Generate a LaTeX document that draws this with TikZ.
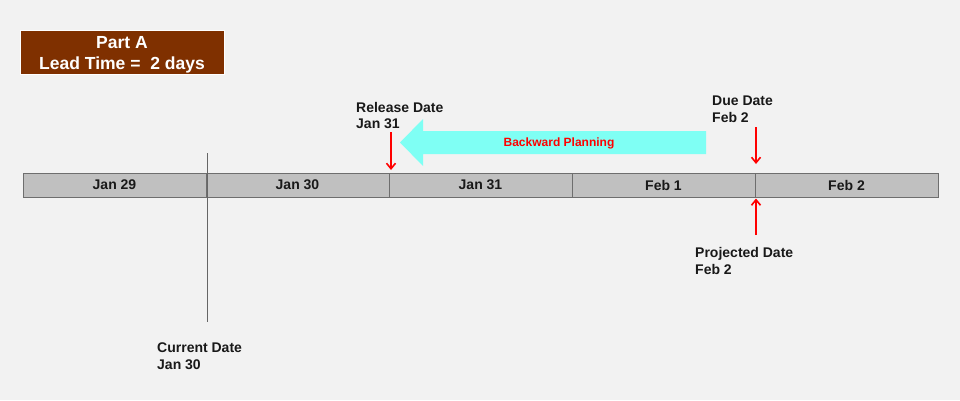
\documentclass[tikz,border=0pt]{standalone}
\usepackage{fontspec}
\setmainfont{Liberation Sans}
\usetikzlibrary{arrows.meta}
\definecolor{bg}{HTML}{F2F2F2}
\definecolor{partbrown}{HTML}{7F3000}
\definecolor{cellgray}{HTML}{C0C0C0}
\definecolor{cellline}{HTML}{6E6E6E}
\definecolor{plancyan}{HTML}{7FFFF4}
\definecolor{planred}{HTML}{FF0000}
\begin{document}
\begin{tikzpicture}[x=1pt,y=-1pt,
  cell/.style={draw=cellline, fill=cellgray, line width=0.9pt, minimum width=183pt,
    minimum height=24pt, inner sep=0pt, outer sep=0pt, anchor=west,
    font=\fontsize{14}{16}\selectfont\bfseries, text=black!90},
  lbl/.style={align=left, inner sep=0pt, anchor=north west,
    font=\fontsize{14}{16.5}\selectfont\bfseries, text=black!90},
  redarrow/.style={draw=planred, line width=1.6pt, -{Straight Barb[length=5.5pt,width=9pt]}}]
\useasboundingbox (0,0) rectangle (960,400);
\fill[bg] (0,0) rectangle (960,400);
% title box
\node[fill=partbrown, draw=white, line width=0.6pt, minimum width=204pt, minimum height=44pt,
  inner sep=0pt] (part) at (122,52) {};
\node[text=white, align=center, inner sep=0pt, font=\fontsize{17.5}{21}\selectfont\bfseries]
  (parttext) at ([yshift=-3pt]part.center) {Part A\\Lead Time = \ 2 days};
% timeline cells
\node[cell] (c1) at (23,185) {Jan 29};
\node[cell] (c2) at (c1.east) {Jan 30};
\node[cell] (c3) at (c2.east) {Jan 31};
\node[cell] (c4) at (c3.east) {Feb 1};
\node[cell] (c5) at (c4.east) {Feb 2};
% current date line
\coordinate (curtop) at (207,153);
\coordinate (curbot) at (207,322);
\draw[line width=0.7pt, draw=black!60] (curtop) -- (curbot);
% backward planning arrow
\fill[plancyan] (400,142.5) -- (423,119) -- (423,131) -- (706,131) -- (706,154)
  -- (423,154) -- (423,166) -- cycle;
\node[text=planred, font=\fontsize{12}{14}\selectfont\bfseries, inner sep=0pt] (bp) at (559,143) {Backward Planning};
% labels
\node[lbl] (rel) at (356,102) {Release Date\\Jan 31};
\node[lbl] (due) at (712,96) {Due Date\\Feb 2};
\node[lbl] (proj) at (695,247.5) {Projected Date\\Feb 2};
\node[lbl] (cur) at (157,343) {Current Date\\Jan 30};
% red arrows
\coordinate (relstart) at (391,132);
\coordinate (duestart) at (756,127);
\coordinate (projstart) at (756,235);
\draw[redarrow] (relstart) -- ([yshift=3pt]relstart |- c3.north);
\draw[redarrow] (duestart) -- ([yshift=9pt]duestart |- c5.north);
\draw[redarrow] (projstart) -- ([yshift=-1.5pt]projstart |- c5.south);
\end{tikzpicture}
\end{document}
